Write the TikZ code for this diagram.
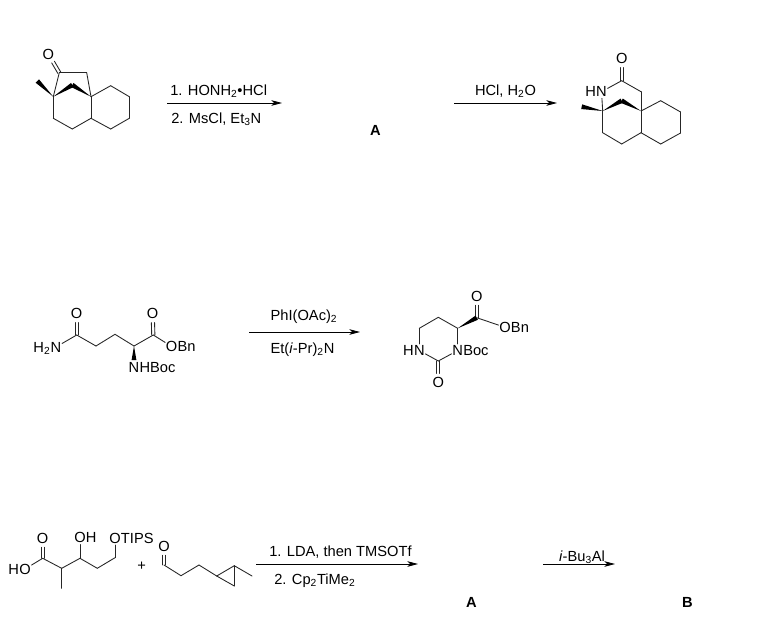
\documentclass[tikz,border=0pt]{standalone}
\usepackage{fontspec}
\setmainfont{Liberation Sans}
\usetikzlibrary{calc,arrows.meta}
\tikzset{
 bond/.style={line width=0.65pt,line cap=round,line join=round,black!85},
 atom/.style={inner xsep=0.6pt,inner ysep=1.2pt,outer sep=0pt,font=\fontsize{11}{13}\selectfont},
 tailr/.style={inner sep=0pt,anchor=base west,font=\fontsize{11}{13}\selectfont},
 taill/.style={inner sep=0pt,anchor=base east,font=\fontsize{11}{13}\selectfont},
 lab/.style={inner sep=0pt,font=\fontsize{11}{13}\selectfont},
 letter/.style={inner sep=0pt,font=\fontsize{11}{13}\selectfont\bfseries},
 rxn/.style={line width=0.65pt,-{Stealth[length=8pt,width=4.2pt,inset=2.2pt]}},
}
\newcommand{\wdg}[2]{\fill[black] (#1) -- ($(#2)!1.8pt!90:(#1)$) -- ($(#2)!1.8pt!-90:(#1)$) -- cycle;}
\newcommand{\dbo}[2]{%
 \draw[bond,shorten >=7pt] ($(#1)!1.2pt!90:(#2)$) -- ($(#2)!1.2pt!-90:(#1)$);
 \draw[bond,shorten >=7pt] ($(#1)!1.2pt!-90:(#2)$) -- ($(#2)!1.2pt!90:(#1)$);}
\newcommand{\bonds}[1]{\foreach \a/\b in {#1} \draw[bond] (\a) -- (\b);}
\begin{document}
\begin{tikzpicture}[x=0.75pt,y=-0.75pt]
\useasboundingbox (0,0) rectangle (782,632);
\fill[white] (0,0) rectangle (782,632);

% --- molecule 1
\node[atom] (aO) at (48.3,54) {O};
\foreach \n/\x/\y in {aC/59.3/72.7,aD/86.7/72.7,aQ/91/96.7,aL/53.3/96.7,aT/72.3/85,aM/37.3/81,
 aE/53.3/118.3,aF/72.3/129,aG/91/118.3,aH/110.7/85.7,aI/129.3/96.7,aJ/129.3/118.3,aK/110.7/129}
 \coordinate (\n) at (\x,\y);
\dbo{aC}{aO}
\bonds{aC/aD,aD/aQ,aC/aL,aL/aE,aE/aF,aF/aG,aG/aQ,aQ/aH,aH/aI,aI/aJ,aJ/aK,aK/aG}
\wdg{aL}{aM}\wdg{aL}{aT}\wdg{aQ}{aT}

% --- reaction 1
\coordinate (r1a) at (167,103); \coordinate (r1b) at (282,103);
\draw[rxn] (r1a) -- (r1b);
\node[lab,anchor=base west] (t1) at (170,95.7) {1. HONH\textsubscript{2}•HCl};
\node[lab,anchor=base west] (t2) at (171,123.3) {2. MsCl, Et\textsubscript{3}N};
\node[letter] (lA1) at (375.5,130) {A};
\coordinate (r2a) at (454,103); \coordinate (r2b) at (557,103);
\draw[rxn] (r2a) -- (r2b);
\node[lab,anchor=base] (t3) at (505.5,95.7) {HCl, H\textsubscript{2}O};

% --- molecule 2
\node[atom] (bO) at (621.7,58.3) {O};
\node[atom] (bN) at (601.5,91.7) {N};
\node[taill] (bH) at ($(bN.base west)+(0.6pt,0)$) {H};
\foreach \n/\x/\y in {bC/621.7/80.7,bD/641/91.7,bQ/641/111,bL/602.7/111,bT/621.7/100.7,bM/581.7/106.7,
 bE/602.7/132.7,bF/621.7/144,bG/641/132.7,bH2/660.7/100.7,bI/680/111.7,bJ/680/133.3,bK/660.7/144}
 \coordinate (\n) at (\x,\y);
\dbo{bC}{bO}
\bonds{bN/bC,bC/bD,bD/bQ,bN/bL,bL/bE,bE/bF,bF/bG,bG/bQ,bQ/bH2,bH2/bI,bI/bJ,bJ/bK,bK/bG}
\wdg{bL}{bM}\wdg{bL}{bT}\wdg{bQ}{bT}

% --- molecule 3
\node[atom] (cN) at (56,347) {N};
\node[taill] (cH) at ($(cN.base west)+(0.6pt,0)$) {H\textsubscript{2}};
\node[atom] (cO1) at (76.7,313.3) {O};
\node[atom] (cO2) at (152.7,313.3) {O};
\node[atom] (cO3) at (171.7,346.5) {O};
\node[tailr] (cBn) at ($(cO3.base east)+(-0.6pt,0)$) {Bn};
\node[atom] (cN2) at (134,367) {N};
\node[tailr] (cBoc) at ($(cN2.base east)+(-0.6pt,0)$) {HBoc};
\foreach \n/\x/\y in {cA/76.7/335,cB/96/346,cC/115/334.3,cD/134/346,cE/153.3/335}
 \coordinate (\n) at (\x,\y);
\dbo{cA}{cO1}\dbo{cE}{cO2}
\bonds{cN/cA,cA/cB,cB/cC,cC/cD,cD/cE,cE/cO3}
\coordinate (cW) at (134,360);
\wdg{cD}{cW}

\coordinate (r3a) at (249,332); \coordinate (r3b) at (360,332);
\draw[rxn] (r3a) -- (r3b);
\node[lab,anchor=base] (t4) at (304,320.7) {PhI(OAc)\textsubscript{2}};
\node[lab,anchor=base] (t5) at (302.5,353.5) {Et(\textit{i}-Pr)\textsubscript{2}N};

% --- molecule 4
\node[atom] (dO1) at (476.7,296) {O};
\node[atom] (dO2) at (505,327.3) {O};
\node[tailr] (dBn) at ($(dO2.base east)+(-0.6pt,0)$) {Bn};
\node[atom] (dN1) at (457.7,350.5) {N};
\node[tailr] (dBoc) at ($(dN1.base east)+(-0.6pt,0)$) {Boc};
\node[atom] (dN2) at (419.3,350.5) {N};
\node[taill] (dH) at ($(dN2.base west)+(0.6pt,0)$) {H};
\node[atom] (dO3) at (438.3,382.7) {O};
\foreach \n/\x/\y in {dC/476.7/317.7,dS/457.7/328.3,dU/438.3/361,dV/419.3/328.3,dW/438.3/317.3}
 \coordinate (\n) at (\x,\y);
\dbo{dC}{dO1}\dbo{dU}{dO3}
\bonds{dC/dO2,dS/dN1,dN1/dU,dU/dN2,dN2/dV,dV/dW,dW/dS}
\wdg{dS}{dC}

% --- molecule 5
\node[atom] (eO1) at (42.7,538) {O};
\node[atom] (eO2) at (25,569) {O};
\node[taill] (eH) at ($(eO2.base west)+(0.6pt,0)$) {H};
\node[atom] (eO3) at (80,537.7) {O};
\node[tailr] (eH3) at ($(eO3.base east)+(-0.6pt,0)$) {H};
\node[atom] (eO4) at (115,538.3) {O};
\node[tailr] (eT) at ($(eO4.base east)+(-0.6pt,0)$) {TIPS};
\foreach \n/\x/\y in {eA/42.7/558.3,eB/61.7/568.3,eM/61.7/588.3,eC/80/558.3,eD/97.3/568.3,eE/115/557.7}
 \coordinate (\n) at (\x,\y);
\dbo{eA}{eO1}
\bonds{eO2/eA,eA/eB,eB/eM,eB/eC,eC/eO3,eC/eD,eD/eE,eE/eO4}
\node[lab] (plus) at (141.7,566.7) {+};

\node[atom] (fO) at (164,546) {O};
\foreach \n/\x/\y in {fA/164/565,fB/181/575.7,fC/199/565,fD/216.7/576,fE/234.3/565.7,fF/234.3/586,fG/252/576}
 \coordinate (\n) at (\x,\y);
\dbo{fA}{fO}
\bonds{fA/fB,fB/fC,fC/fD,fD/fE,fE/fF,fF/fD,fE/fG}

\coordinate (r4a) at (256,564); \coordinate (r4b) at (418,564);
\draw[rxn] (r4a) -- (r4b);
\node[lab,anchor=base west] (t6) at (269,556.7) {1. LDA, then TMSOTf};
\node[lab,anchor=base west] (t7) at (274,584) {2. Cp\textsubscript{2}TiMe\textsubscript{2}};
\node[letter] (lA2) at (471.5,602) {A};
\coordinate (r5a) at (543,564); \coordinate (r5b) at (615,564);
\draw[rxn] (r5a) -- (r5b);
\node[lab,anchor=base] (t8) at (582,561) {\textit{i}-Bu\textsubscript{3}Al};
\node[letter] (lB) at (687.5,602) {B};
\end{tikzpicture}
\end{document}
